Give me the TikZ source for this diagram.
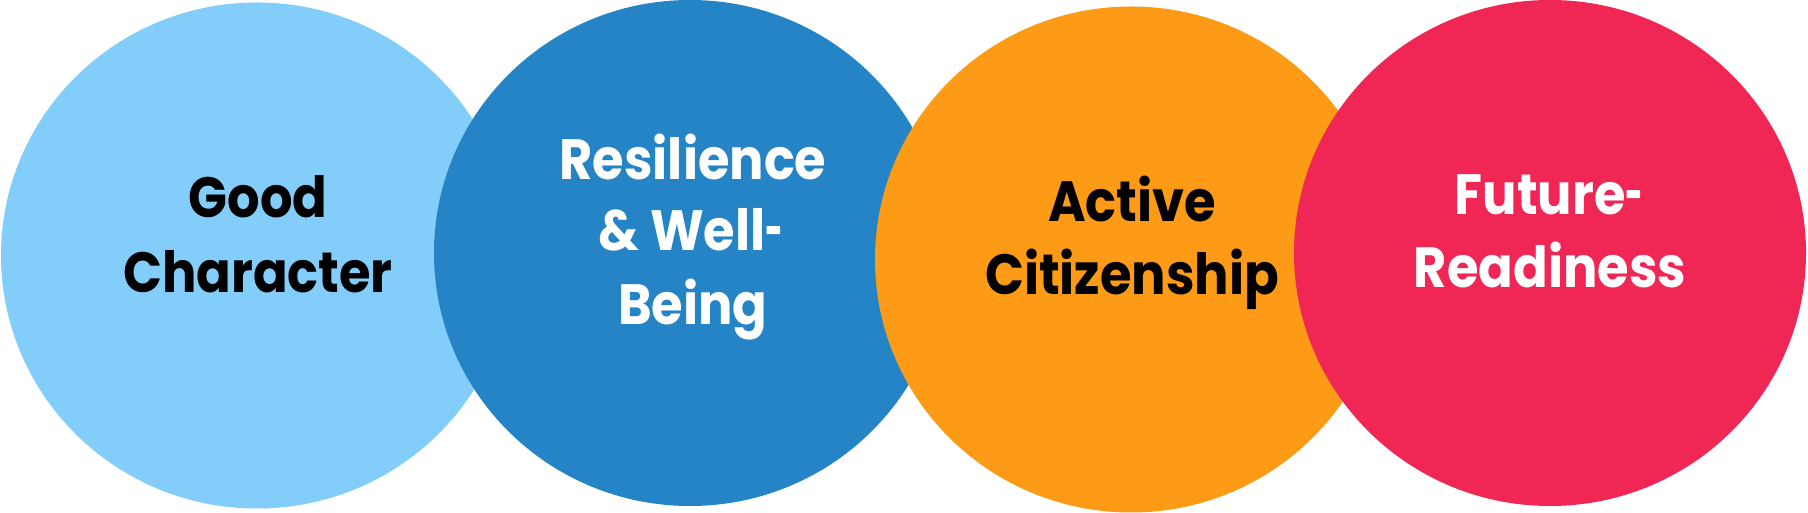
\documentclass[tikz,border=0pt]{standalone}
\usepackage{graphicx}
\usepackage{fontspec}
\setmainfont{Poppins}[BoldFont={Poppins Bold},BoldFeatures={FakeStretch=0.9}]
\definecolor{cLight}{HTML}{83CDFB}
\definecolor{cBlue}{HTML}{2484C6}
\definecolor{cOrange}{HTML}{FD9A16}
\definecolor{cRed}{HTML}{F02654}
\newcommand{\shorthy}{\scalebox{0.6}[1]{-}}
\tikzset{
  disc/.style={draw=none},
  lbl/.style={anchor=base, inner sep=0pt, font=\fontsize{57}{60}\selectfont\bfseries},
}
\begin{document}
\begin{tikzpicture}[x=1bp,y=1bp]
\useasboundingbox (0,0) rectangle (1808,513);
\fill[cLight,disc] (257,257.5) ellipse [x radius=256, y radius=253];
\fill[cBlue,disc] (690,260) ellipse [x radius=256, y radius=253];
\fill[cOrange,disc] (1131,253.5) ellipse [x radius=256, y radius=253];
\fill[cRed,disc] (1550,260) ellipse [x radius=256, y radius=253];
\node[lbl,text=black] (g1) at (258,295) {Good};
\node[lbl,text=black] (g2) at (258,220) {Character};
\node[lbl,text=white] (r1) at (693,333) {Resilience};
\node[lbl,text=white] (r2) at (691,262) {\& Well\shorthy};
\node[lbl,text=white] (r3) at (693,188) {Being};
\node[lbl,text=black] (a1) at (1132,291) {Active};
\node[lbl,text=black] (a2) at (1132,218) {Citizenship};
\node[lbl,text=white] (f1) at (1549,298) {Future\shorthy};
\node[lbl,text=white] (f2) at (1550,225) {Readiness};
\end{tikzpicture}
\end{document}
